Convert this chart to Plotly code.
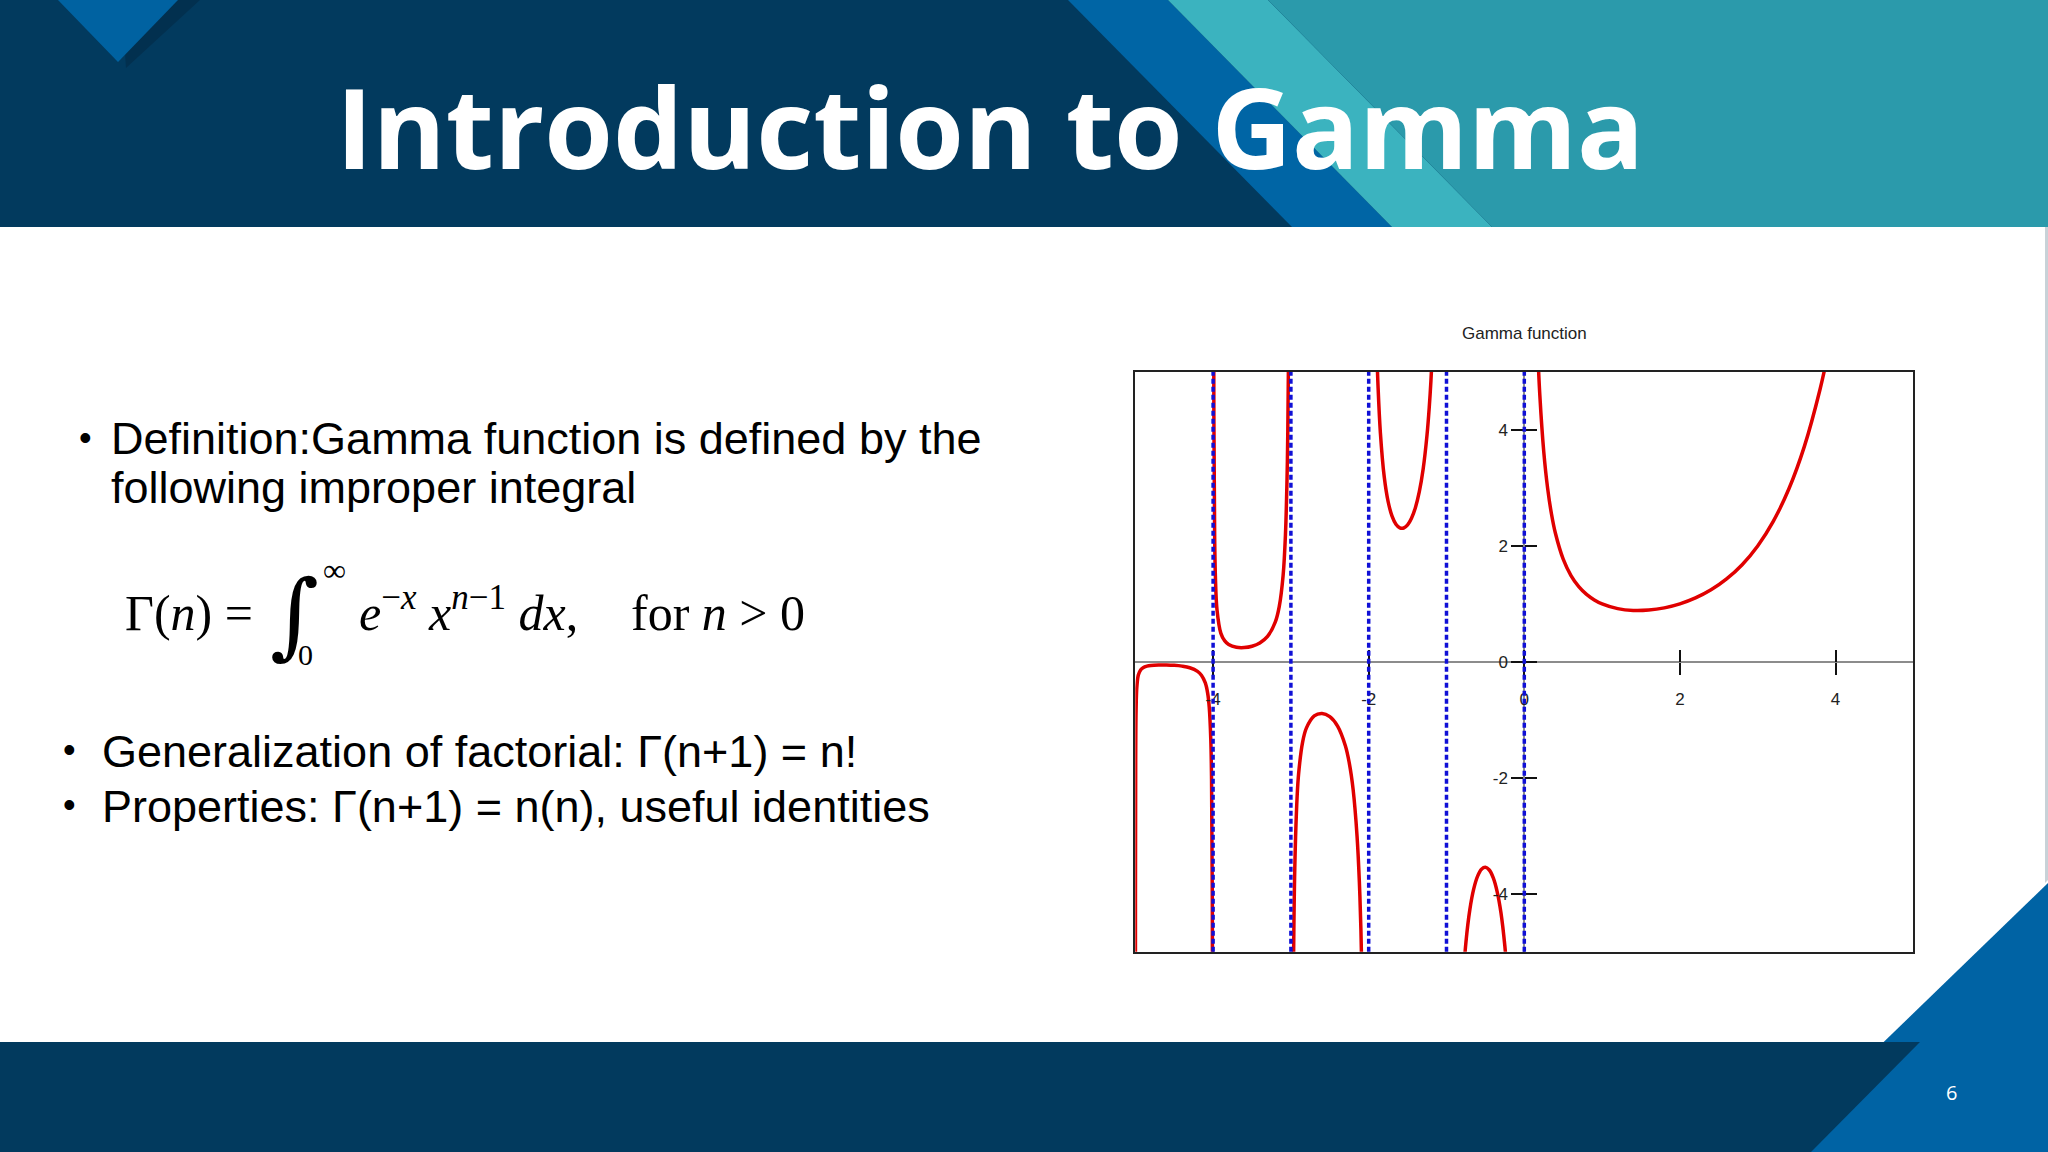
import plotly.graph_objects as go

W, H = 2048, 1152

# ---------------- data ----------------
chart_title = "Gamma function"
tick_values = [-4, -2, 0, 2, 4]
tick_labels = ["-4", "-2", "0", "2", "4"]
asymptotes_x = [-4, -3, -2, -1, 0]

branch1_x = [-4.999, -4.998, -4.995, -4.99, -4.98, -4.96, -4.93, -4.9, -4.85, -4.8, -4.7, -4.6,
             -4.5, -4.4, -4.3, -4.2, -4.15, -4.1, -4.07, -4.05, -4.03, -4.02, -4.01, -4.005]
branch1_y = [-8.36, -4.18, -1.68, -0.848, -0.431, -0.224, -0.135, -0.100, -0.074, -0.062, -0.054, -0.054,
             -0.060, -0.074, -0.102, -0.164, -0.230, -0.364, -0.539, -0.776, -1.33, -2.02, -4.10, -8.2]

branch2_x = [-3.995, -3.99, -3.98, -3.97, -3.95, -3.9, -3.85, -3.8, -3.7, -3.6, -3.5, -3.4, -3.3,
             -3.2, -3.15, -3.1, -3.07, -3.05, -3.04, -3.03]
branch2_y = [8.4, 4.23, 2.149, 1.455, 0.902, 0.492, 0.361, 0.300, 0.252, 0.247, 0.270, 0.326, 0.439,
             0.689, 0.952, 1.492, 2.193, 3.14, 3.96, 5.36]

branch3_x = [-2.97, -2.95, -2.92, -2.9, -2.85, -2.8, -2.7, -2.6, -2.5, -2.4, -2.3, -2.25, -2.2,
             -2.15, -2.12, -2.1, -2.08]
branch3_y = [-5.78, -3.56, -2.327, -1.918, -1.388, -1.139, -0.931, -0.889, -0.945, -1.108, -1.447,
             -1.743, -2.205, -3.000, -3.795, -4.626, -5.855]

branch4_x = [-1.9, -1.88, -1.85, -1.8, -1.75, -1.7, -1.65, -1.6, -1.55, -1.5, -1.45, -1.4, -1.35,
             -1.3, -1.25, -1.22, -1.2, -1.18]
branch4_y = [5.563, 4.753, 3.956, 3.188, 2.762, 2.514, 2.374, 2.311, 2.309, 2.363, 2.477, 2.659, 2.932,
             3.328, 3.921, 4.424, 4.851, 5.379]

branch5_x = [-0.8, -0.75, -0.7, -0.65, -0.6, -0.55, -0.5, -0.45, -0.4, -0.35, -0.3, -0.25, -0.22]
branch5_y = [-5.739, -4.834, -4.274, -3.917, -3.697, -3.578, -3.545, -3.591, -3.723, -3.958, -4.327,
             -4.902, -5.398]

branch6_x = [0.17, 0.2, 0.25, 0.3, 0.35, 0.4, 0.5, 0.6, 0.7, 0.8, 0.9, 1.0, 1.2, 1.4, 1.6, 1.8, 2.0,
             2.2, 2.4, 2.6, 2.8, 3.0, 3.2, 3.4, 3.6, 3.8, 3.9]
branch6_y = [5.451, 4.591, 3.626, 2.992, 2.546, 2.218, 1.772, 1.489, 1.298, 1.164, 1.069, 1.0, 0.918,
             0.887, 0.894, 0.931, 1.0, 1.102, 1.242, 1.430, 1.676, 2.0, 2.424, 2.981, 3.717, 4.694, 5.299]

branches = [(branch1_x, branch1_y), (branch2_x, branch2_y), (branch3_x, branch3_y),
            (branch4_x, branch4_y), (branch5_x, branch5_y), (branch6_x, branch6_y)]

slide_title = "Introduction to Gamma"
bullet_1a = "Definition:Gamma function is defined by the"
bullet_1b = "following improper integral"
bullet_2 = "Generalization of factorial: Γ(n+1) = n!"
bullet_3 = "Properties: Γ(n+1) = n(n), useful identities"
page_number = "6"

# ---------------- helpers ----------------
def px(x):
    return x / W


def py(y):
    return 1 - y / H


def poly(points):
    return "M" + " L".join(f"{px(a):.5f},{py(b):.5f}" for a, b in points) + " Z"


NAVY = "#023a5e"
BLUE = "#0065a5"
TEAL_L = "#3bb3bf"
TEAL_D = "#2b9aab"

XDOM = [1135.3 / W, 1913.3 / W]
YDOM = [1 - 951.7 / H, 1 - 372.0 / H]
X0_POS = (XDOM[0] + XDOM[1]) / 2
Y0_POS = (YDOM[0] + YDOM[1]) / 2

fig = go.Figure()

for bx, by in branches:
    fig.add_trace(go.Scatter(x=bx, y=by, mode="lines", line=dict(color="#e00000", width=3.5, shape="spline"),
                             hoverinfo="skip", showlegend=False, xaxis="x", yaxis="y"))

# dummy traces so the overlay axes are drawn
fig.add_trace(go.Scatter(x=[], y=[], xaxis="x2", yaxis="y2", showlegend=False))
fig.add_trace(go.Scatter(x=[], y=[], xaxis="x3", yaxis="y3", showlegend=False))

shapes = []
# header
shapes.append(dict(type="path", path=poly([(0, 0), (W, 0), (W, 227), (0, 227)]), fillcolor=NAVY,
                   line_width=0, xref="paper", yref="paper", layer="below"))
shapes.append(dict(type="path", path=poly([(1068, 0), (1168, 0), (1392, 227), (1292, 227)]),
                   fillcolor=BLUE, line_width=0, xref="paper", yref="paper", layer="below"))
shapes.append(dict(type="path", path=poly([(1168, 0), (1268, 0), (1492, 227), (1392, 227)]),
                   fillcolor=TEAL_L, line_width=0, xref="paper", yref="paper", layer="below"))
shapes.append(dict(type="path", path=poly([(1268, 0), (W, 0), (W, 227), (1492, 227)]),
                   fillcolor=TEAL_D, line_width=0, xref="paper", yref="paper", layer="below"))
# top-left triangle with shadow
shapes.append(dict(type="path", path=poly([(122, 0), (200, 0), (126, 68)]), fillcolor="#02304f",
                   line_width=0, xref="paper", yref="paper", layer="below"))
shapes.append(dict(type="path", path=poly([(58, 0), (178, 0), (118, 62)]), fillcolor="#0062a1",
                   line_width=0, xref="paper", yref="paper", layer="below"))
# footer
shapes.append(dict(type="path", path=poly([(W, 883), (W, H), (1770, H)]), fillcolor="#0063a4",
                   line_width=0, xref="paper", yref="paper", layer="below"))
shapes.append(dict(type="path", path=poly([(0, 1042), (1920, 1042), (1811, H), (0, H)]), fillcolor=NAVY,
                   line_width=0, xref="paper", yref="paper", layer="below"))
# right slide edge
shapes.append(dict(type="path", path=poly([(2045, 227), (W, 227), (W, 880), (2045, 883)]),
                   fillcolor="#c8d2d8", line_width=0, xref="paper", yref="paper", layer="below"))

# asymptotes (blue dashed)
for ax in asymptotes_x:
    shapes.append(dict(type="line", xref="x", yref="y domain", x0=ax, x1=ax, y0=0, y1=1,
                       line=dict(color="#1010d6", width=3.5, dash="5px,3px"), layer="above"))

annotations = []
# slide title
annotations.append(dict(text=f"<b>{slide_title}</b>", x=px(990), y=py(126), xref="paper", yref="paper",
                        xanchor="center", yanchor="middle", showarrow=False,
                        font=dict(family="Open Sans", size=111, color="white")))

body_font = dict(family="Liberation Sans", size=45, color="black")
for txt, x, yc in [(bullet_1a, 109, 439), (bullet_1b, 109, 487), (bullet_2, 100, 751), (bullet_3, 100, 806)]:
    annotations.append(dict(text=txt, x=px(x), y=py(yc), xref="paper", yref="paper", xanchor="left",
                            yanchor="middle", showarrow=False, font=body_font))
for x, yc in [(85, 437), (69, 749), (69, 804)]:
    annotations.append(dict(text="•", x=px(x), y=py(yc), xref="paper", yref="paper", xanchor="center",
                            yanchor="middle", showarrow=False, font=dict(family="Liberation Sans", size=36,
                                                                          color="black")))

# formula
ffont = dict(family="Liberation Serif", size=50, color="black")
annotations.append(dict(text="Γ(<i>n</i>) =", x=px(123), y=py(643), xref="paper", yref="paper",
                        xanchor="left", yanchor="bottom", showarrow=False, font=ffont))
annotations.append(dict(text="<i>e</i><sup>−<i>x</i></sup> <i>x</i><sup><i>n</i>−1</sup> <i>dx</i>,",
                        x=px(357), y=py(643), xref="paper", yref="paper", xanchor="left",
                        yanchor="bottom", showarrow=False, font=ffont))
annotations.append(dict(text="for <i>n</i> &gt; 0", x=px(629), y=py(643), xref="paper", yref="paper",
                        xanchor="left", yanchor="bottom", showarrow=False, font=ffont))
annotations.append(dict(text="∫", x=px(294), y=py(614), xref="paper", yref="paper", xanchor="center",
                        yanchor="middle", showarrow=False,
                        font=dict(family="DejaVu Serif", size=94, color="black")))
annotations.append(dict(text="∞", x=px(334), y=py(570), xref="paper", yref="paper", xanchor="center",
                        yanchor="middle", showarrow=False,
                        font=dict(family="Liberation Serif", size=32, color="black")))
annotations.append(dict(text="0", x=px(305), y=py(654), xref="paper", yref="paper", xanchor="center",
                        yanchor="middle", showarrow=False,
                        font=dict(family="Liberation Serif", size=30, color="black")))

# chart title
annotations.append(dict(text=chart_title, x=(XDOM[0] + XDOM[1]) / 2, y=py(333), xref="paper", yref="paper",
                        xanchor="center", yanchor="middle", showarrow=False,
                        font=dict(family="Liberation Sans", size=17, color="#222222")))
# page number
annotations.append(dict(text=page_number, x=px(1951), y=py(1092), xref="paper", yref="paper",
                        xanchor="center", yanchor="middle", showarrow=False,
                        font=dict(family="Open Sans", size=20, color="white")))

tickfont = dict(family="Liberation Sans", size=17, color="#222222")
hidden = dict(showgrid=False, zeroline=False, showticklabels=False, ticks="")

fig.update_layout(
    width=W, height=H, margin=dict(l=0, r=0, t=0, b=0), autosize=False,
    paper_bgcolor="white", plot_bgcolor="rgba(0,0,0,0)", showlegend=False,
    xaxis=dict(domain=XDOM, range=[-5, 5], showline=True, mirror=True, linecolor="#222222", linewidth=2,
               **hidden),
    yaxis=dict(domain=YDOM, range=[-5, 5], showline=True, mirror=True, linecolor="#222222", linewidth=2,
               **hidden),
    xaxis2=dict(overlaying="x", anchor="free", position=Y0_POS, side="bottom", range=[-5, 5],
                showgrid=False, zeroline=False, showline=True, linecolor="#8c8c8c", linewidth=2,
                ticks="outside", ticklen=12, tickwidth=2, tickcolor="#111111",
                tickvals=tick_values, ticktext=tick_labels, tickfont=tickfont, ticklabelstandoff=10),
    yaxis2=dict(overlaying="y", anchor="free", position=X0_POS, side="left", range=[-5, 5],
                showgrid=False, zeroline=False, showline=True, linecolor="#8c8c8c", linewidth=2,
                ticks="outside", ticklen=12, tickwidth=2, tickcolor="#111111",
                tickvals=tick_values, ticktext=tick_labels, tickfont=tickfont),
    xaxis3=dict(overlaying="x", anchor="free", position=Y0_POS, side="bottom", range=[-5, 5],
                showgrid=False, zeroline=False, showline=False, showticklabels=False,
                ticks="inside", ticklen=12, tickwidth=2, tickcolor="#111111", tickvals=tick_values),
    yaxis3=dict(overlaying="y", anchor="free", position=X0_POS, side="left", range=[-5, 5],
                showgrid=False, zeroline=False, showline=False, showticklabels=False,
                ticks="inside", ticklen=12, tickwidth=2, tickcolor="#111111", tickvals=tick_values),
    shapes=shapes,
    annotations=annotations,
)

fig.write_html("out.html", config={"displayModeBar": False, "staticPlot": True},
               post_script="document.body.style.margin='0';document.body.style.overflow='hidden';")
